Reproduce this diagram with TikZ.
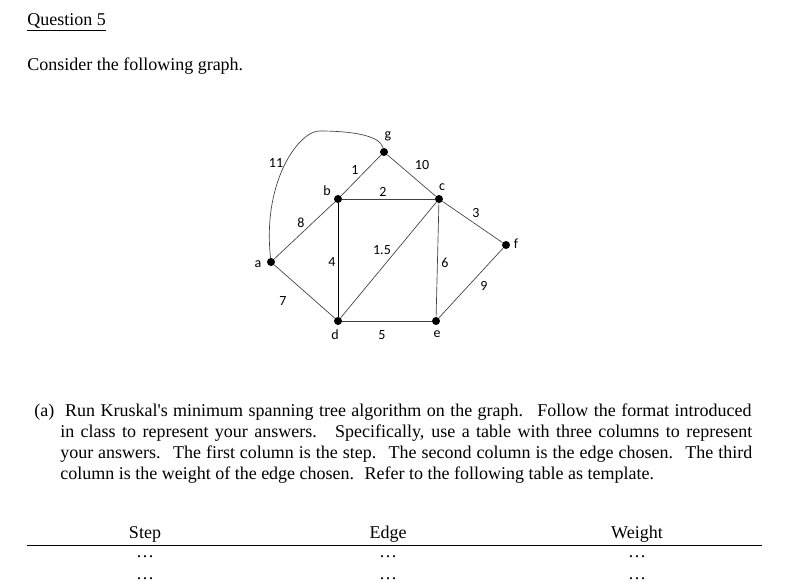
\documentclass[tikz,border=0pt]{standalone}
\usepackage{fontspec}
\setmainfont{Liberation Serif}
\newfontfamily\lblfont{Carlito}
\begin{document}
\begin{tikzpicture}[x=0.75pt,y=-0.75pt,
  vtx/.style={circle,fill=black,inner sep=0pt,minimum size=6pt},
  lbl/.style={font=\lblfont\fontsize{10.5}{12}\selectfont,inner sep=1pt},
  edge/.style={draw=black!75,line width=0.5pt},
  txt/.style={font=\fontsize{13.5}{16}\selectfont,inner sep=0pt},
  pline/.style={txt,anchor=base west}]
\useasboundingbox (0,0) rectangle (797,585);
\node[txt,anchor=west] (q) at (27,22) {\underline{Question 5}};
\node[txt,anchor=west] (c1) at (27,66) {Consider the following graph.};
% vertices
\node[vtx] (a) at (271,262) {};
\node[vtx] (b) at (338,199) {};
\node[vtx] (g) at (384,152) {};
\node[vtx] (c) at (439,199) {};
\node[vtx] (f) at (506,245) {};
\node[vtx] (d) at (338,321) {};
\node[vtx] (e) at (436,321) {};
\node[lbl] (la) at (258,264) {a};
\node[lbl] (lb) at (327,191) {b};
\node[lbl] (lg) at (388,136) {g};
\node[lbl] (lc) at (442,187) {c};
\node[lbl] (lf) at (516,244) {f};
\node[lbl] (ld) at (335,335) {d};
\node[lbl] (le) at (437,334) {e};
% edges
\draw[edge] (a) .. controls (262,180) and (300,130) .. (320,131) .. controls (350,131) and (380,135) .. (g);
\draw[edge] (a) -- (b);
\draw[edge] (a) -- (d);
\draw[edge] (b) -- (g);
\draw[edge] (g) -- (c);
\draw[edge] (b) -- (c);
\draw[edge,black] (b) -- (d);
\draw[edge] (c) -- (d);
\draw[edge] (c) -- (e);
\draw[edge] (c) -- (f);
\draw[edge] (d) -- (e);
\draw[edge] (e) -- (f);
% weights
\node[lbl] at (276,163) {11};
\node[lbl] at (355,170) {1};
\node[lbl] at (422,165) {10};
\node[lbl] at (383,192) {2};
\node[lbl] at (476,213) {3};
\node[lbl] at (301,223) {8};
\node[lbl] at (332,262) {4};
\node[lbl] at (382,250) {1.5};
\node[lbl] at (445,263) {6};
\node[lbl] at (484,286) {9};
\node[lbl] at (283,301) {7};
\node[lbl] at (382,335) {5};
% paragraph
\node[pline] (p1) at (34,416) {\makebox[538pt][s]{(a) \ Run Kruskal\textquotesingle s minimum spanning tree algorithm on the graph. \ Follow the format introduced}};
\node[pline] (p2) at (60,437) {\makebox[519pt][s]{in class to represent your answers. \ Specifically, use a table with three columns to represent}};
\node[pline] (p3) at (60,458) {\makebox[519pt][s]{your answers. \ The first column is the step. \ The second column is the edge chosen. \ The third}};
\node[pline] (p4) at (60,479) {column is the weight of the edge chosen. \ Refer to the following table as template.};
% table
\node[txt] (h1) at (145,534) {Step};
\node[txt] (h2) at (388,534) {Edge};
\node[txt] (h3) at (637,534) {Weight};
\draw[line width=0.6pt] (27,545) coordinate (r0) -- (762,545) coordinate (r1);
\node[txt] (d1) at (145,557) {\dots};
\node[txt] (d2) at (388,557) {\dots};
\node[txt] (d3) at (637,557) {\dots};
\node[txt] (e1) at (145,579) {\dots};
\node[txt] (e2) at (388,579) {\dots};
\node[txt] (e3) at (637,579) {\dots};
\end{tikzpicture}
\end{document}
